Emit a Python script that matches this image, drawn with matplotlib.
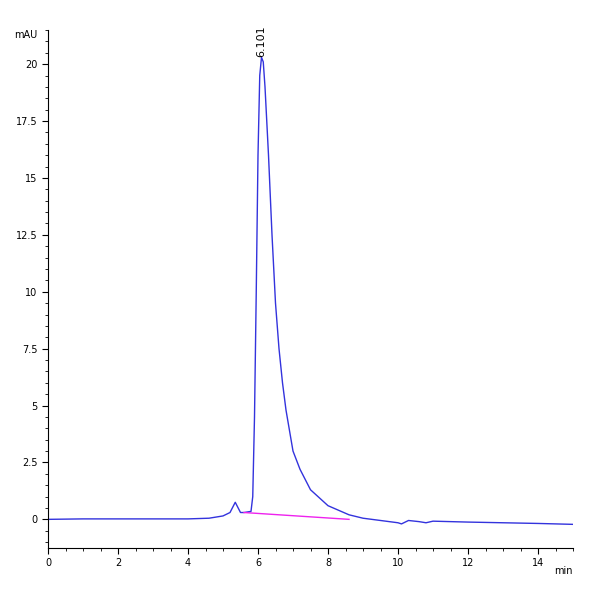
import numpy as np
import matplotlib
matplotlib.use('Agg')
import matplotlib.pyplot as plt
from matplotlib.ticker import MultipleLocator

# chromatogram trace
t = [0, 1, 2, 3, 4, 4.6, 5.0, 5.2, 5.3, 5.35, 5.4, 5.5, 5.6, 5.8, 5.85, 5.9, 5.95,
     6.0, 6.05, 6.1, 6.15, 6.2, 6.3, 6.4, 6.5, 6.6, 6.7, 6.8, 7.0, 7.2, 7.5, 8.0,
     8.6, 9.0, 9.5, 10.0, 10.1, 10.3, 10.6, 10.8, 11.0, 12.0, 13.0, 14.0, 15.0]
mau = [0, 0.02, 0.02, 0.02, 0.02, 0.05, 0.15, 0.3, 0.6, 0.75, 0.6, 0.3, 0.3, 0.35,
       1.0, 4.5, 10.0, 16.0, 19.5, 20.3, 20.1, 19.0, 16.0, 12.5, 9.5, 7.5, 6.0, 4.8,
       3.0, 2.2, 1.3, 0.6, 0.2, 0.05, -0.05, -0.15, -0.2, -0.05, -0.1, -0.15,
       -0.08, -0.12, -0.15, -0.18, -0.22]
base_t = [5.6, 8.6]
base_y = [0.3, 0.0]
peak_t = 6.101
peak_y = 20.3

fig = plt.figure(figsize=(6, 6), dpi=100)
ax = fig.add_axes([0.08, 0.087, 0.875, 0.863])
ax.plot(t, mau, color='#3333dd', linewidth=1)
ax.plot(base_t, base_y, color='#ee22ee', linewidth=1)
ax.text(peak_t, peak_y, '6.101', rotation=90, ha='center', va='bottom', fontsize=8)

ax.set_xlim(0, 15)
ax.set_ylim(-1.25, 21.5)
ax.xaxis.set_major_locator(MultipleLocator(2))
ax.xaxis.set_minor_locator(MultipleLocator(0.5))
ax.yaxis.set_minor_locator(MultipleLocator(0.5))
ax.set_yticks([0, 2.5, 5, 7.5, 10, 12.5, 15, 17.5, 20])
ax.set_yticklabels(['0', '2.5', '5', '7.5', '10', '12.5', '15', '17.5', '20'])
for s in ['top', 'right']:
    ax.spines[s].set_visible(False)
ax.tick_params(labelsize=7, length=4)
ax.tick_params(which='minor', length=2)
ax.text(-0.02, 1.0, 'mAU', transform=ax.transAxes, ha='right', va='top', fontsize=7)
ax.text(1.0, -0.035, 'min', transform=ax.transAxes, ha='right', va='top', fontsize=7)

fig.savefig('out.png')
